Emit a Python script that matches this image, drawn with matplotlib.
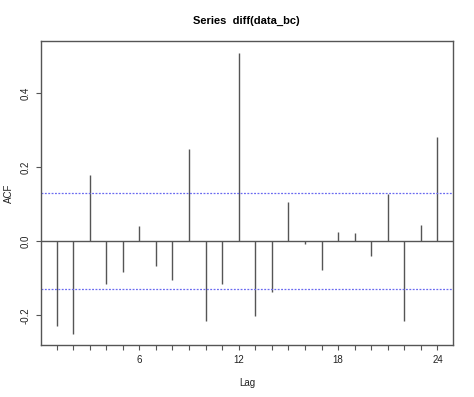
import matplotlib
matplotlib.use("Agg")
import matplotlib.pyplot as plt

# ACF values (lags 1..24)
lags = list(range(1, 25))
acf = [-0.230, -0.250, 0.180, -0.115, -0.082, 0.040, -0.068, -0.104,
       0.249, -0.216, -0.116, 0.510, -0.202, -0.137, 0.106, -0.008,
       -0.078, 0.025, 0.021, -0.041, 0.127, -0.215, 0.043, 0.281]
conf_limit = 0.130
x_ticks = lags
x_tick_labels = [str(l) if l % 6 == 0 else "" for l in lags]
y_ticks = [-0.2, 0.0, 0.2, 0.4]
y_tick_labels = ["-0.2", "0.0", "0.2", "0.4"]

plt.rcParams["font.family"] = ["Liberation Sans", "DejaVu Sans"]

fig = plt.figure(figsize=(4.74, 3.97), dpi=100)
ax = fig.add_axes([0.0871, 0.131, 0.868, 0.765])

gray = "#555555"
blue = "#6a6af0"
ax.vlines(lags, 0, acf, color=gray, linewidth=1.0)
ax.axhline(0, color=gray, linewidth=1.0)
ax.axhline(conf_limit, color=blue, linewidth=0.9, linestyle=(0, (1.5, 1.2)))
ax.axhline(-conf_limit, color=blue, linewidth=0.9, linestyle=(0, (1.5, 1.2)))

# R style axis limits: data range padded by 4%
lo = min(min(acf), -conf_limit)
hi = max(max(acf), conf_limit)
pad = 0.04 * (hi - lo)
ax.set_ylim(lo - pad, hi + pad)
xpad = 0.04 * (lags[-1] - lags[0])
ax.set_xlim(lags[0] - xpad, lags[-1] + xpad)

ax.set_xticks(x_ticks)
ax.set_xticklabels(x_tick_labels, fontsize=7)
ax.set_yticks(y_ticks)
ax.set_yticklabels(y_tick_labels, fontsize=7, rotation=90, va="center")
ax.tick_params(colors=gray, labelcolor="#222222", length=3.5, width=0.8, pad=4)

for s in ax.spines.values():
    s.set_color(gray)
    s.set_linewidth(1.0)

ax.set_xlabel("Lag", fontsize=7, color="#222222", labelpad=9)
ax.set_ylabel("ACF", fontsize=7, color="#222222", labelpad=5)
fig.suptitle("Series  diff(data_bc)", fontsize=8, fontweight="bold", x=0.52, y=0.96)

fig.savefig("out.png", dpi=100)
